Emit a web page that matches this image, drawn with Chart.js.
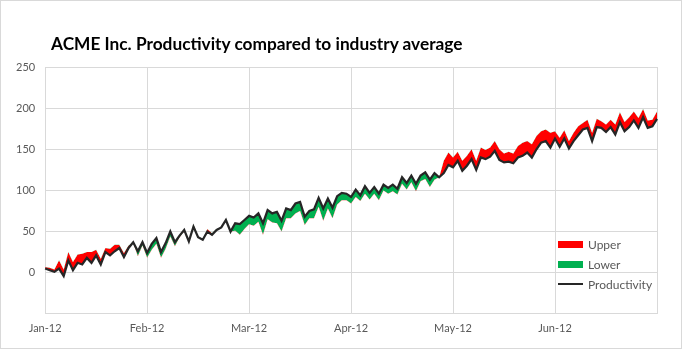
<!DOCTYPE html>
<html>
<head>
<meta charset="utf-8">
<script src="https://cdn.jsdelivr.net/npm/chart.js@4.4.1/dist/chart.umd.min.js"></script>
<style>
  body { margin: 0; background: #fff; }
  #wrap { position: absolute; left: 0; top: 0; width: 680px; height: 347px; border: 1px solid #d9d9d9; }
  #title { position: absolute; left: 50px; top: 32px; font: bold 17.3px Lato, sans-serif; color: #000; white-space: nowrap; }
  #legend { position: absolute; left: 557px; top: 233px; font: 12px Lato, sans-serif; color: #595959; }
  .item { height: 20px; display: flex; align-items: center; }
  .sw { width: 25px; height: 7px; margin-right: 5px; }
  .ln { width: 25px; height: 2px; margin-right: 5px; background: #262626; }
</style>
</head>
<body>
<div id="wrap">
  <canvas id="grafico" width="680" height="347"></canvas>
  <div id="title">ACME Inc. Productivity compared to industry average</div>
  <div id="legend">
    <div class="item"><div class="sw" style="background:#ff0000"></div>Upper</div>
    <div class="item"><div class="sw" style="background:#00b050"></div>Lower</div>
    <div class="item"><div class="ln"></div>Productivity</div>
  </div>
</div>
<script>
const meses = ["Jan-12", "Feb-12", "Mar-12", "Apr-12", "May-12", "Jun-12"];
const pontosPorMes = 22;

// productivity (black line)
const produtividade = [
  5, 3, 1, 5, -4, 15, 3, 12, 10, 18, 12, 21, 10, 25, 21, 26, 30, 19, 30, 37, 26, 37,
  24, 35, 42, 25, 36, 50, 37, 45, 52, 38, 56, 43, 40, 50, 46, 52, 55, 64, 50, 60, 59, 64,
  69, 67, 72, 60, 76, 72, 74, 63, 78, 76, 84, 86, 68, 75, 77, 91, 78, 90, 79, 93, 97, 96,
  92, 101, 94, 105, 97, 104, 96, 107, 103, 107, 102, 116, 109, 118, 108, 118, 122, 113, 121, 116, 121, 131,
  128, 136, 124, 130, 138, 125, 140, 138, 141, 148, 137, 134, 135, 133, 140, 142, 146, 140, 150, 158, 160, 152,
  163, 153, 163, 151, 160, 167, 174, 176, 160, 177, 176, 171, 177, 168, 183, 172, 177, 185, 176, 189, 176, 178, 187
];

// industry average
const mediaIndustria = [
  7, 6, 4, 15, 4, 25, 13, 22, 23, 25, 25, 28, 17, 30, 29, 34, 34, 24, 33, 36, 20, 33,
  18, 28, 35, 18, 29, 44, 32, 43, 50, 37, 59, 44, 41, 53, 48, 53, 55, 63, 50, 51, 46, 53,
  59, 57, 62, 46, 65, 61, 60, 50, 66, 66, 72, 75, 58, 66, 66, 80, 63, 78, 66, 83, 88, 88,
  84, 92, 87, 96, 89, 96, 88, 100, 96, 99, 95, 108, 101, 110, 99, 111, 114, 104, 113, 116, 136, 146,
  140, 147, 136, 142, 150, 136, 152, 149, 152, 160, 150, 145, 147, 145, 154, 158, 160, 156, 166, 172, 174, 170,
  172, 164, 173, 160, 170, 178, 182, 186, 170, 187, 184, 180, 186, 180, 195, 183, 189, 196, 188, 199, 185, 186, 196
];

const yTicks = [0, 50, 100, 150, 200, 250];

function generateChart() {
    const labels = produtividade.map((v, i) => (i % pontosPorMes === 0 && meses[i / pontosPorMes]) ? meses[i / pontosPorMes] : "");
    const ultimo = labels.length - 1;
    const grade = "#d9d9d9";

    const info = {
        labels: labels,
        datasets: [
            {
                label: "Productivity",
                data: produtividade,
                borderColor: "#262626",
                borderWidth: 2.25,
                pointRadius: 0,
                tension: 0,
                fill: {
                    target: 1,
                    above: "#00b050",
                    below: "#ff0000",
                },
            },
            {
                label: "Industry average",
                data: mediaIndustria,
                borderWidth: 0,
                borderColor: "rgba(0,0,0,0)",
                pointRadius: 0,
                tension: 0,
                fill: false,
            },
        ],
    };

    const options = {
        responsive: false,
        animation: false,
        layout: {
            padding: { left: 5, right: 24, top: 66, bottom: 5 },
        },
        scales: {
            x: {
                offset: false,
                border: { color: grade },
                grid: {
                    drawTicks: false,
                    color: (ctx) => (labels[ctx.index] !== "" || ctx.index === ultimo) ? grade : "rgba(0,0,0,0)",
                },
                ticks: {
                    autoSkip: false,
                    maxRotation: 0,
                    padding: 8,
                    color: "#595959",
                    font: { family: "Lato", size: 11 },
                },
            },
            y: {
                min: -50,
                max: 250,
                border: { color: grade },
                grid: { drawTicks: false, color: grade },
                ticks: {
                    stepSize: 50,
                    padding: 10,
                    color: "#595959",
                    font: { family: "Lato", size: 11 },
                    callback: (v) => yTicks.includes(v) ? v : "",
                },
            },
        },
        plugins: {
            legend: { display: false },
            tooltip: { enabled: false },
            filler: { drawTime: "beforeDatasetsDraw" },
        },
    };

    const config = {
        type: "line",
        data: info,
        options,
    };
    const meuGrafico = new Chart(document.getElementById("grafico"), config);
}
generateChart();
</script>
</body>
</html>
